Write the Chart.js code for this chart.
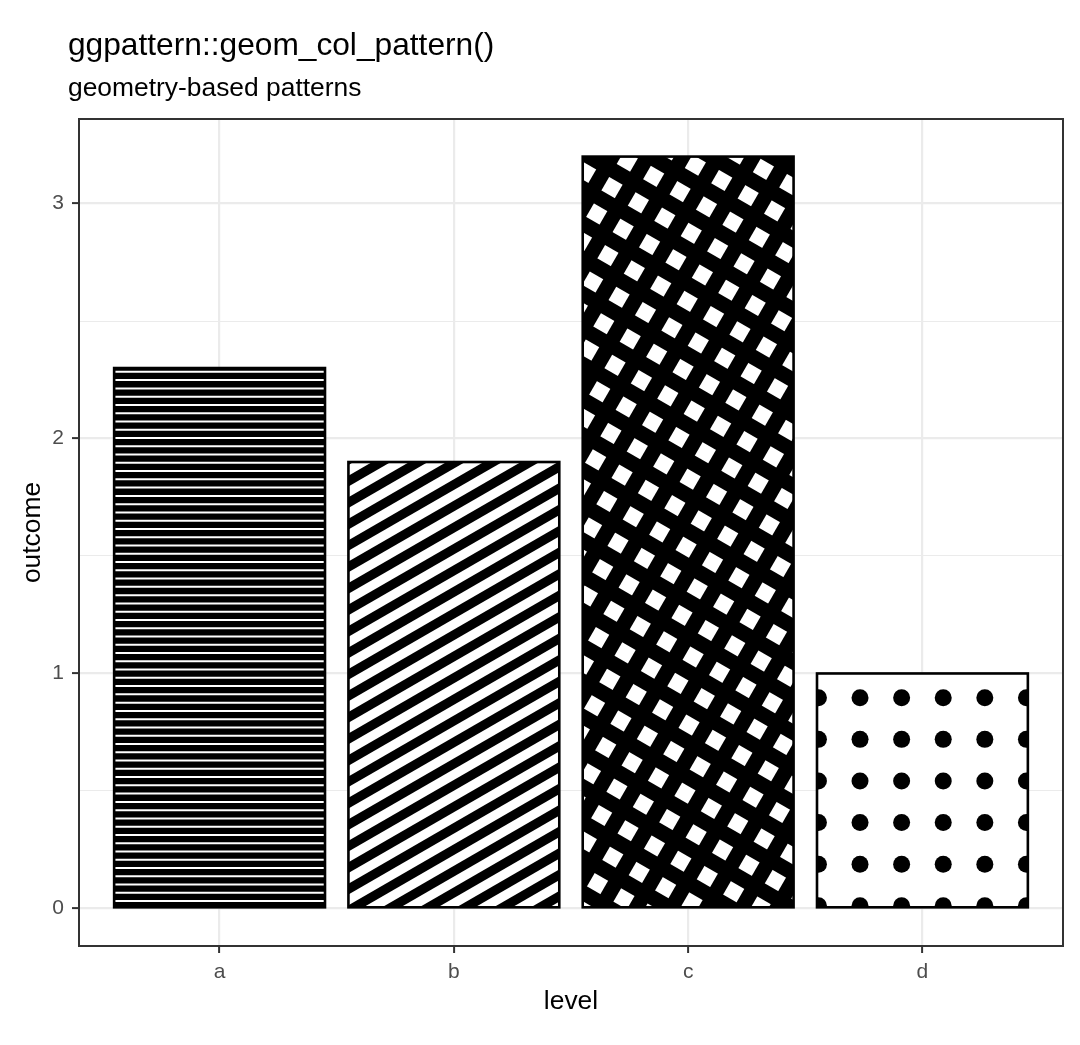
<!DOCTYPE html>
<html>
<head>
<meta charset="utf-8">
<script src="https://cdn.jsdelivr.net/npm/chart.js@4.4.1/dist/chart.umd.min.js"></script>
<style>
  body { margin: 0; background: #ffffff; font-family: "Liberation Sans", Arial, sans-serif; }
  #wrap { position: relative; width: 1080px; height: 1045px; }
  #chart { position: absolute; left: 0; top: 0; }
  .titulo { position: absolute; left: 68px; line-height: 1; color: #000; white-space: nowrap; }
  #title { top: 29px; font-size: 31.7px; }
  #subtitle { top: 73.6px; font-size: 26.4px; }
</style>
</head>
<body>
<div id="wrap">
  <canvas id="chart" width="1080" height="1045"></canvas>
  <div id="title" class="titulo">ggpattern::geom_col_pattern()</div>
  <div id="subtitle" class="titulo">geometry-based patterns</div>
</div>
<script>
// dados
const categories = ['a', 'b', 'c', 'd'];
const outcome = [2.3, 1.9, 3.2, 1.0];
const patterns = ['stripe-h', 'stripe', 'crosshatch', 'circle'];
const yTicks = [0, 0.5, 1, 1.5, 2, 2.5, 3];

const FONT = '"Liberation Sans", Arial, sans-serif';

// linhas paralelas com angulo (graus), espacamento e fase medidos do canto superior esquerdo
function stripes(ctx, l, t, w, h, angle, spacing, width, phase, color) {
    const rad = angle * Math.PI / 180;
    const dx = Math.cos(rad), dy = -Math.sin(rad);
    const nx = Math.sin(rad), ny = Math.cos(rad);
    const corners = [[l, t], [l + w, t], [l, t + h], [l + w, t + h]];
    const ps = corners.map(([x, y]) => x * nx + y * ny);
    const p0 = l * nx + t * ny;
    const pmin = Math.min(...ps), pmax = Math.max(...ps);
    const L = 4000;
    ctx.strokeStyle = color;
    ctx.lineWidth = width;
    let k = Math.floor((pmin - p0 - phase) / spacing) - 1;
    for (; k < 10000; k++) {
        const p = p0 + phase + k * spacing;
        if (p > pmax + width) break;
        const cx = p * nx, cy = p * ny;
        ctx.beginPath();
        ctx.moveTo(cx - dx * L, cy - dy * L);
        ctx.lineTo(cx + dx * L, cy + dy * L);
        ctx.stroke();
    }
}

function drawPattern(ctx, kind, l, t, w, h, cx) {
    if (kind === 'stripe-h') {
        ctx.fillStyle = '#000';
        ctx.fillRect(l, t, w, h);
        stripes(ctx, l, t, w, h, 0, 8.27, 2, 3.8, '#ffffff');
    } else if (kind === 'stripe') {
        ctx.fillStyle = '#fff';
        ctx.fillRect(l, t, w, h);
        stripes(ctx, l, t, w, h, 30, 18.6, 9.3, 16.5, '#000');
    } else if (kind === 'crosshatch') {
        ctx.fillStyle = '#fff';
        ctx.fillRect(l, t, w, h);
        stripes(ctx, l, t, w, h, -30, 30.5, 15, 27.4, '#000');
        stripes(ctx, l, t, w, h, 60, 30.5, 15, 25.6, '#000');
    } else if (kind === 'circle') {
        ctx.fillStyle = '#fff';
        ctx.fillRect(l, t, w, h);
        ctx.fillStyle = '#000';
        const s = 41.6;
        for (let j = 0; t + 24.3 + j * s < t + h + 10; j++) {
            for (let k = -4; k <= 3; k++) {
                ctx.beginPath();
                ctx.arc(cx + (k + 0.5) * s, t + 24.3 + j * s, 8.5, 0, Math.PI * 2);
                ctx.fill();
            }
        }
    }
}

const patternPlugin = {
    id: 'patterns',
    afterDatasetsDraw(chart) {
        const ctx = chart.ctx;
        const meta = chart.getDatasetMeta(0);
        meta.data.forEach((bar, i) => {
            const left = bar.x - bar.width / 2;
            const top = Math.min(bar.y, bar.base);
            const w = bar.width;
            const h = Math.abs(bar.base - bar.y);
            ctx.save();
            ctx.beginPath();
            ctx.rect(left, top, w, h);
            ctx.clip();
            drawPattern(ctx, patterns[i], left, top, w, h, bar.x);
            ctx.restore();
            ctx.save();
            ctx.lineWidth = 2.6;
            ctx.strokeStyle = '#000';
            ctx.strokeRect(left, top, w, h);
            ctx.restore();
        });
        // borda do painel (theme_bw)
        const a = chart.chartArea;
        ctx.save();
        ctx.lineWidth = 2;
        ctx.strokeStyle = '#333333';
        ctx.strokeRect(a.left, a.top, a.right - a.left, a.bottom - a.top);
        ctx.restore();
    }
};

const isMajor = v => Math.abs(v - Math.round(v)) < 1e-9;

new Chart(document.getElementById('chart'), {
    type: 'bar',
    data: {
        datasets: [{
            data: categories.map((c, i) => ({ x: i + 1, y: outcome[i] })),
            backgroundColor: '#ffffff',
            borderWidth: 0,
            categoryPercentage: 0.9,
            barPercentage: 1.0
        }]
    },
    options: {
        responsive: false,
        animation: false,
        layout: { padding: { top: 119, right: 17, bottom: 0, left: 0 } },
        plugins: { legend: { display: false }, tooltip: { enabled: false } },
        scales: {
            x: {
                type: 'linear',
                offset: false,
                min: 0.4,
                max: 4.6,
                afterBuildTicks: s => { s.ticks = categories.map((c, i) => ({ value: i + 1 })); },
                afterFit: s => { s.height = 99; },
                ticks: {
                    callback: v => categories[v - 1],
                    color: '#4D4D4D',
                    font: { size: 21, family: FONT },
                    padding: 7,
                    autoSkip: false,
                    maxRotation: 0
                },
                grid: { offset: false, color: '#EBEBEB', lineWidth: 2.2, tickColor: '#333333', tickWidth: 2, tickLength: 7 },
                border: { display: false },
                title: { display: true, text: 'level', color: '#000', font: { size: 26.4, family: FONT }, padding: { top: 0, bottom: 27 } }
            },
            y: {
                type: 'linear',
                min: -0.16,
                max: 3.36,
                afterBuildTicks: s => { s.ticks = yTicks.map(v => ({ value: v })); },
                afterFit: s => { s.width = 79; },
                ticks: {
                    callback: v => isMajor(v) ? String(v) : '',
                    color: '#4D4D4D',
                    font: { size: 21, family: FONT },
                    padding: 8,
                    autoSkip: false
                },
                grid: {
                    color: '#EBEBEB',
                    lineWidth: c => isMajor(c.tick.value) ? 2.2 : 1.1,
                    tickColor: c => isMajor(c.tick.value) ? '#333333' : 'rgba(0,0,0,0)',
                    tickWidth: 2,
                    tickLength: 7
                },
                border: { display: false },
                title: { display: true, text: 'outcome', color: '#000', font: { size: 26.4, family: FONT }, padding: { top: 17, bottom: 0 } }
            }
        }
    },
    plugins: [patternPlugin]
});
</script>
</body>
</html>
